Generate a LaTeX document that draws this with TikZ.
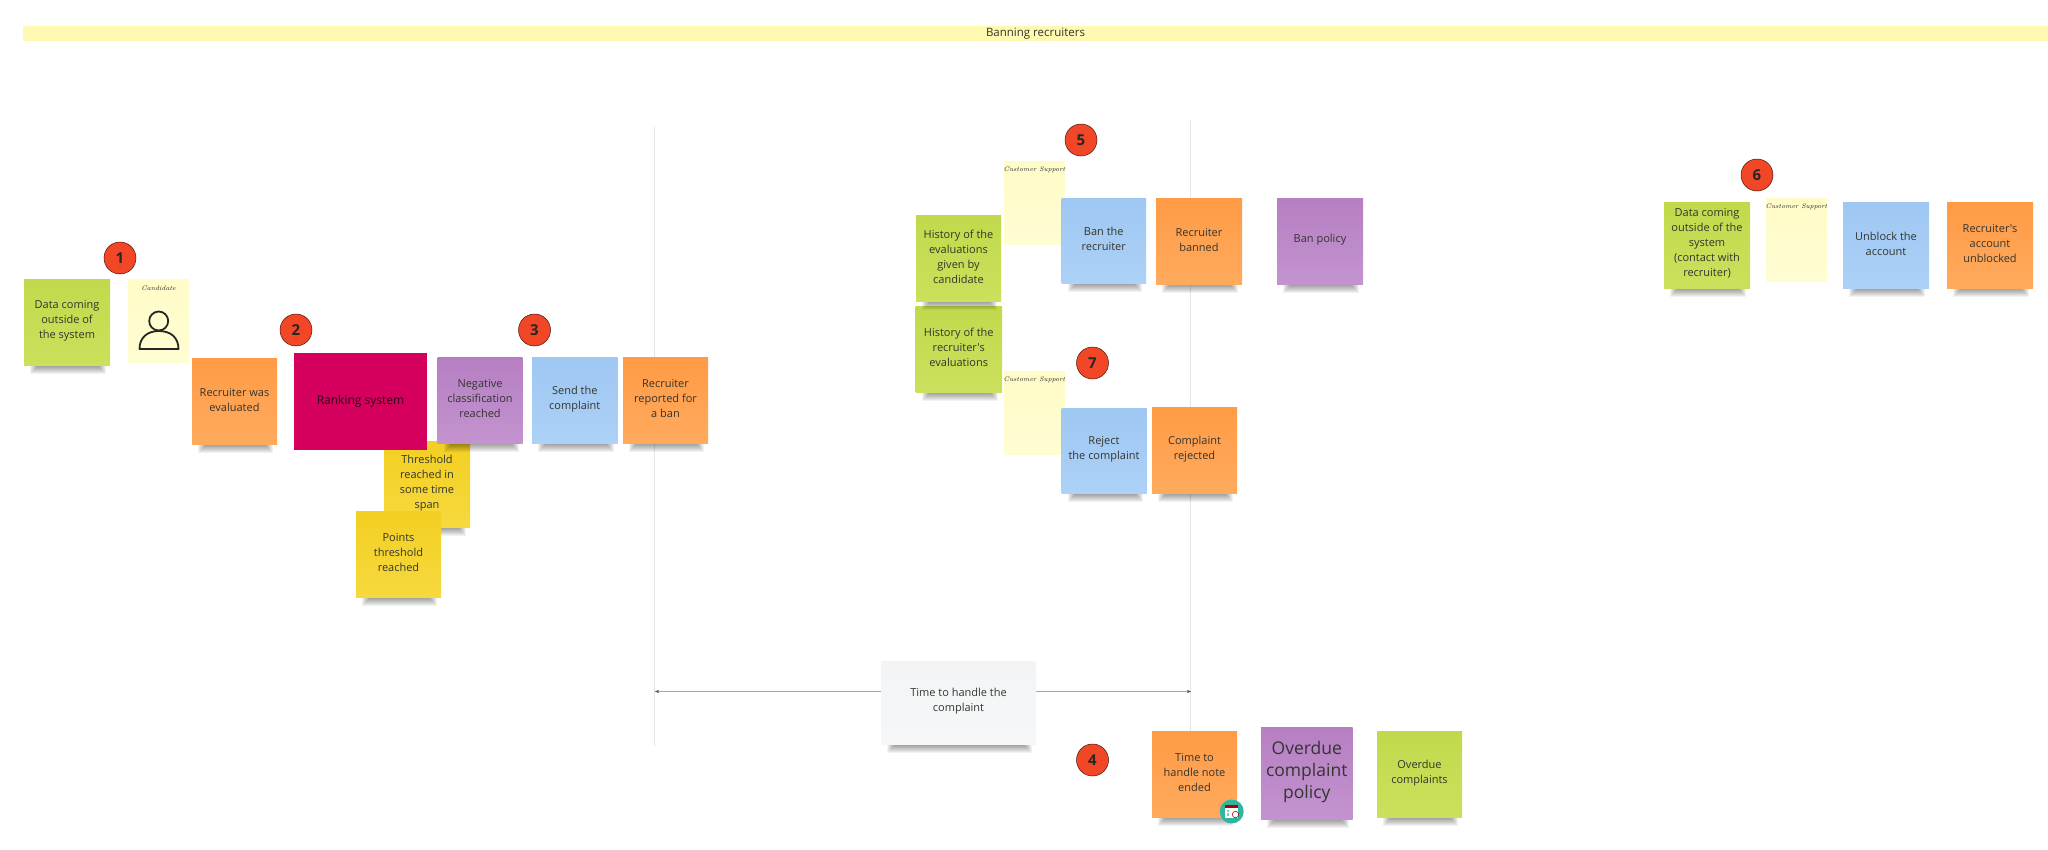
\documentclass[tikz,border=0pt]{standalone}
\usepackage{fontspec}
\newfontfamily\opensans{Open Sans}
\usetikzlibrary{arrows.meta}
\definecolor{inkc}{HTML}{33352F}
\definecolor{bandc}{HTML}{FFF9B1}
\definecolor{paleA}{HTML}{FFFCC8}
\definecolor{paleB}{HTML}{FFFDD2}
\definecolor{grnA}{HTML}{C0DA4C}
\definecolor{grnB}{HTML}{CBE05C}
\definecolor{orgA}{HTML}{FF9B45}
\definecolor{orgB}{HTML}{FFAA5E}
\definecolor{purA}{HTML}{B67FC2}
\definecolor{purB}{HTML}{C393CF}
\definecolor{bluA}{HTML}{9EC7F2}
\definecolor{bluB}{HTML}{ADD1F7}
\definecolor{yelA}{HTML}{F3CF22}
\definecolor{yelB}{HTML}{F6D93E}
\definecolor{gryA}{HTML}{F3F4F6}
\definecolor{gryB}{HTML}{F6F7F9}
\definecolor{pinkc}{HTML}{D5005E}
\definecolor{redc}{HTML}{F24726}
\definecolor{tealc}{HTML}{2FB5A0}
\tikzset{
  x=1pt,y=-1pt,
  notebox/.style={rectangle,inner sep=0pt,text=inkc,font=\opensans\fontsize{11}{15}\selectfont},
  grn/.style={notebox,top color=grnA,bottom color=grnB},
  org/.style={notebox,top color=orgA,bottom color=orgB},
  pur/.style={notebox,top color=purA,bottom color=purB},
  blu/.style={notebox,top color=bluA,bottom color=bluB},
  yel/.style={notebox,top color=yelA,bottom color=yelB},
  gry/.style={notebox,top color=gryA,bottom color=gryB},
  pale/.style={notebox,top color=paleA,bottom color=paleB},
  badge/.style={circle,fill=redc,draw=black!70!redc,line width=0.5pt,minimum size=32pt,inner sep=0pt,text=black!85,font=\opensans\bfseries\fontsize{15}{15}\selectfont},
  handtxt/.style={inner sep=0pt,text=black!85,font=\itshape\fontsize{6.6}{8}\selectfont},
  rule/.style={draw=black!10,line width=0.35pt},
  span/.style={draw=black!35,line width=0.3pt,-{Stealth[length=4pt,width=3pt,black!70]}},
}
% name, x0, y0, x1, y1, style, text
\newcommand\stickynote[7]{%
  \foreach \i in {1,...,8}{%
    \fill[black,opacity=0.05] (#2+5+\i,#5) rectangle (#4-3-\i,#5+10-\i);
  }%
  \pgfmathsetlengthmacro\stickyw{(#4-#2-2)*1pt}%
  \node[#6,minimum width={(#4-#2)*1pt},minimum height={(#5-#3)*1pt}] (#1) at ({(#2+#4)/2},{(#3+#5)/2})
    {\parbox[c]{\stickyw}{\centering #7\par\vspace{2.5pt}}};%
}
% name, x0, y0, x1, y1, text
\newcommand\actornote[6]{%
  \node[pale,minimum width={(#4-#2)*1pt},minimum height={(#5-#3)*1pt}] (#1) at ({(#2+#4)/2},{(#3+#5)/2}) {};
  \node[handtxt] (#1t) at ({(#2+#4)/2},#3+9) {#6};%
}
\begin{document}
\begin{tikzpicture}
\useasboundingbox (0,0) rectangle (2048,849);
\fill[white] (0,0) rectangle (2048,849);
% vertical rules
\coordinate (ltop) at (654.5,127);
\coordinate (lbot) at (654.5,746);
\coordinate (rtop) at (1190.5,120);
\coordinate (rbot) at (1190.5,731);
\coordinate (L) at (655,691.5);
\coordinate (R) at (1191,691.5);
\draw[rule] (ltop) -- (lbot);
\draw[rule] (rtop) -- (rbot);
% title band
\node[fill=bandc,minimum width=2025pt,minimum height=15pt,inner sep=0pt,text=inkc,font=\opensans\fontsize{11.5}{14}\selectfont] (title) at (1035.5,33.5) {Banning recruiters};
% group 1
\stickynote{dataout}{24}{279}{110}{365}{grn}{Data coming\\outside of\\the system}
\actornote{candidate}{128}{279}{189}{362}{Candidate}
\stickynote{evaluated}{192}{358}{277}{444}{org}{Recruiter was\\evaluated}
\stickynote{thresh}{384}{441}{470}{527}{yel}{Threshold\\reached in\\some time\\span}
\stickynote{negative}{437.5}{357.5}{522.5}{443}{pur}{Negative\\classification\\reached}
\node[notebox,fill=pinkc,minimum width=133pt,minimum height=96.5pt,font=\opensans\fontsize{12}{15}\selectfont,text=black!75!pinkc] (ranking) at (360.5,401.7) {Ranking system};
\stickynote{points}{356}{511}{441}{597}{yel}{Points\\threshold\\reached}
\stickynote{send}{532}{357.5}{617.5}{443}{blu}{Send the\\complaint}
\stickynote{reported}{623}{357.5}{708}{443}{org}{Recruiter\\reported for\\a ban}
% person icon
\draw[black!85,line width=1.8pt] (158.7,321) circle (9.5pt);
\draw[black!85,line width=1.8pt,line join=round] (139.5,349) .. controls (139.5,337) and (148,331) .. (159,331) .. controls (170,331) and (178.5,337) .. (178.5,349) -- cycle;
% group 5
\actornote{csa}{1004}{161}{1065}{244}{Customer Support}
\actornote{csb}{1004}{371}{1065}{454}{Customer Support}
\stickynote{histb}{915.5}{306}{1002}{392}{grn}{History of the\\recruiter's\\evaluations}
\stickynote{hista}{916}{215}{1001}{301}{grn}{History of the\\evaluations\\given by\\candidate}
\stickynote{ban}{1061.5}{198}{1146}{283}{blu}{Ban the\\recruiter}
\stickynote{banned}{1156}{198}{1242}{284}{org}{Recruiter\\banned}
\stickynote{policy}{1277}{198}{1363}{284}{pur}{Ban policy}
\stickynote{reject}{1061.5}{408}{1146.5}{493}{blu}{Reject\\the complaint}
\stickynote{rejected}{1152}{407}{1237}{493}{org}{Complaint\\rejected}
% time span
\stickynote{timebox}{881}{661}{1036}{744}{gry}{Time to handle the\\complaint}
\draw[span] (timebox.west |- L) -- (L);
\draw[span] (timebox.east |- R) -- (R);
\stickynote{timenote}{1152}{731}{1237}{817}{org}{Time to\\handle note\\ended}
\stickynote{overpol}{1261}{727}{1352.5}{819}{pur}{{\fontsize{17.5}{22}\selectfont Overdue\\complaint\\policy\par}}
\stickynote{overcom}{1377}{731}{1462}{817}{grn}{Overdue\\complaints}
% calendar icon
\node[circle,fill=tealc,minimum size=24pt,inner sep=0pt] (icon) at (1231.7,811.5) {};
\fill[white] (1224.5,805.5) rectangle (1238,817.5);
\fill[red!70!black] (1224.5,804.5) rectangle (1238,807.5);
\fill[tealc!60] (1226.5,809.5) rectangle (1229,812);
\fill[tealc!60] (1226.5,813) rectangle (1229,815.5);
\fill[white,draw=red!70!black,line width=0.6pt] (1235.5,814.5) circle (3.2pt);
% group 6
\stickynote{dataout2}{1664}{202}{1750}{288}{grn}{Data coming\\outside of the\\system\\(contact with\\recruiter)}
\actornote{csc}{1766}{198}{1827}{281}{Customer Support}
\stickynote{unblock}{1843}{202}{1929}{288}{blu}{Unblock the\\account}
\stickynote{unblocked}{1947}{202}{2033}{288}{org}{Recruiter's\\account\\unblocked}
% number badges
\node[badge] (b1) at (120,258) {1};
\node[badge] (b2) at (296,330) {2};
\node[badge] (b3) at (534.5,330) {3};
\node[badge] (b4) at (1092.5,760) {4};
\node[badge] (b5) at (1081,140) {5};
\node[badge] (b6) at (1757,175) {6};
\node[badge] (b7) at (1092.5,363) {7};
\end{tikzpicture}
\end{document}
